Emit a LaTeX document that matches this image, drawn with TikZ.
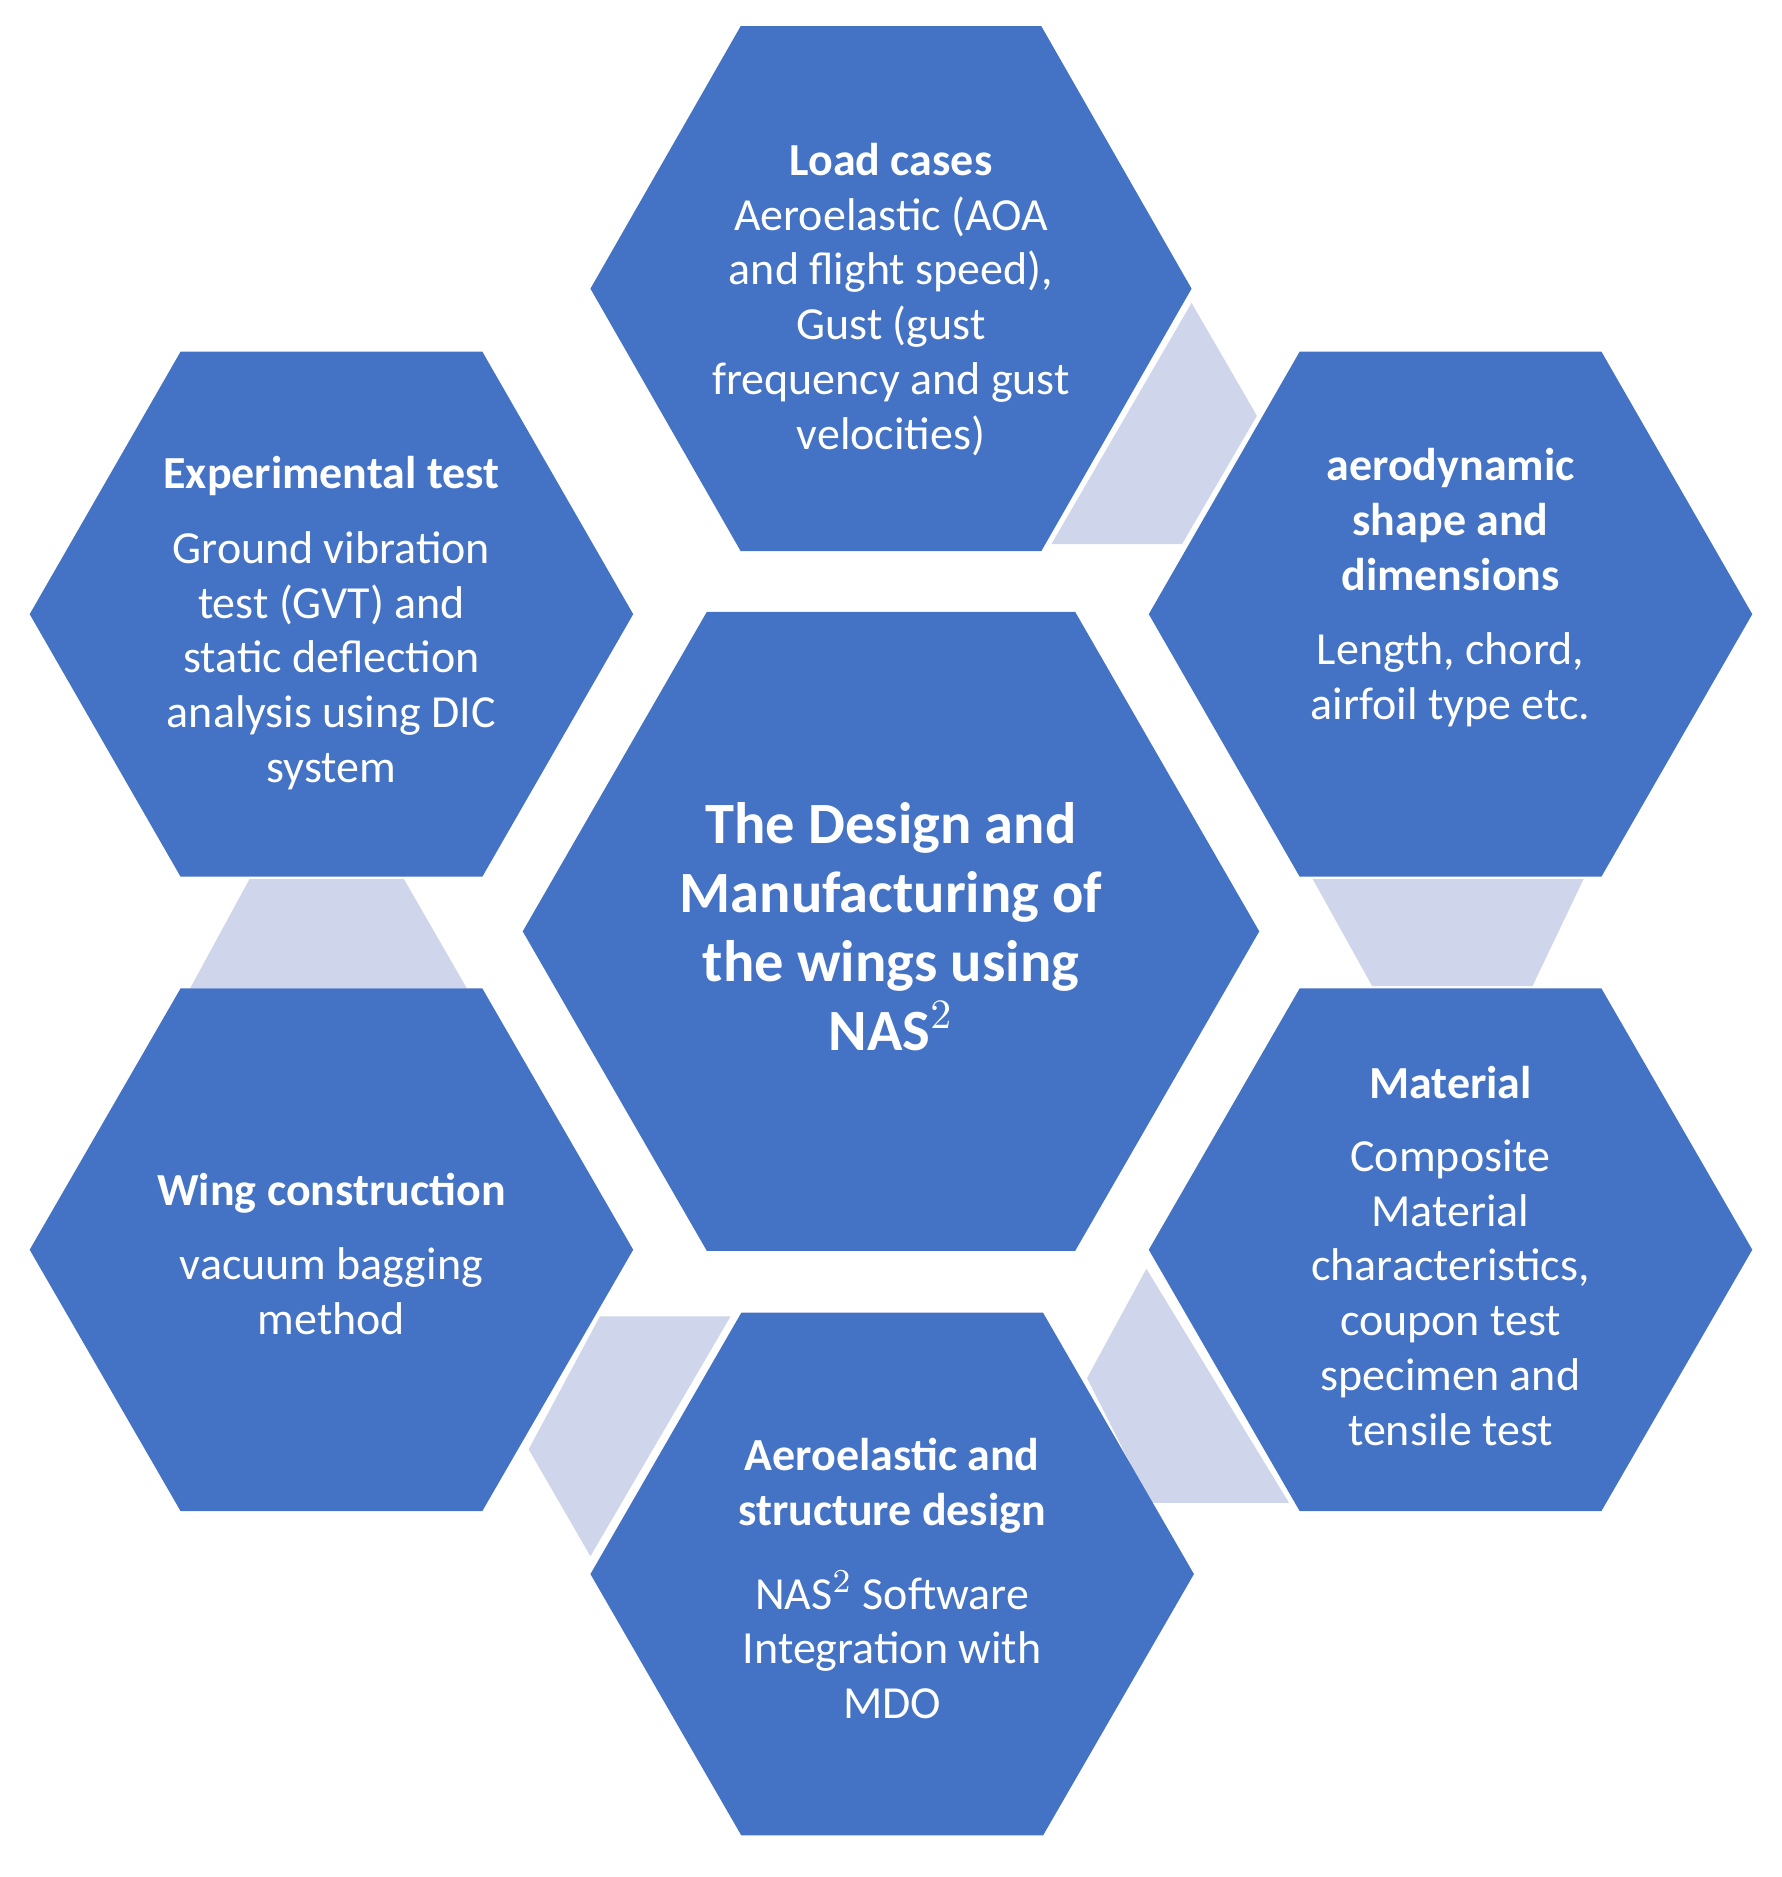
\documentclass[tikz,border=0pt]{standalone}
\usepackage{fontspec}
\setmainfont{Carlito}
\tikzset{
  hexfill/.style  = {fill=hexblue},
  link/.style     = {fill=linkgray},
  head/.style     = {anchor=north, align=center, text=white,
                     font=\fontsize{11}{13.1}\selectfont\bfseries},
  body/.style     = {anchor=north, align=center, text=white,
                     font=\fontsize{11}{13.1}\selectfont},
  title/.style    = {align=center, text=white,
                     font=\fontsize{14}{16.5}\selectfont\bfseries}
}
\definecolor{hexblue}{RGB}{68,114,196}
\definecolor{linkgray}{RGB}{207,213,234}
\newcommand{\hexa}[4]{%
  \fill[hexfill] ({#1-#3},#2) -- ({#1-#3/2},{#2-#4}) -- ({#1+#3/2},{#2-#4})
    -- ({#1+#3},#2) -- ({#1+#3/2},{#2+#4}) -- ({#1-#3/2},{#2+#4}) -- cycle;}
\begin{document}
\begin{tikzpicture}[x=0.01cm, y=-0.01cm]
  \useasboundingbox (0,0) rectangle (1500,1580);
  % connecting bands
  \fill[link] (1003,255) -- (1058,350) -- (995,458) -- (885,458) -- cycle;
  \fill[link] (1105,740) -- (1333,740) -- (1290,830) -- (1155,830) -- cycle;
  \fill[link] (965,1068) -- (1085,1265) -- (968,1265) -- (915,1160) -- cycle;
  \fill[link] (505,1108) -- (615,1108) -- (497,1310) -- (445,1220) -- cycle;
  \fill[link] (160,832) -- (393,832) -- (340,740) -- (210,740) -- cycle;
  % hexagons
  \hexa{750}{243}{253}{221}
  \hexa{750}{784}{310}{269}
  \hexa{279}{517}{254}{221}
  \hexa{1221}{517}{254}{221}
  \hexa{279}{1052}{254}{220}
  \hexa{1221}{1052}{254}{220}
  \hexa{751}{1325}{254}{220}
  % texts
  \node[title] (core) at (750,780) {The Design and\\Manufacturing of\\the wings using\\NAS$^{2}$};
  \node[head] (loadH) at (750,108) {Load cases};
  \node[body] (loadB) at (750,153) {Aeroelastic (AOA\\and flight speed),\\Gust (gust\\frequency and gust\\velocities)};
  \node[head] (expH) at (279,372) {Experimental test};
  \node[body] (expB) at (279,435) {Ground vibration\\test (GVT) and\\static deflection\\analysis using DIC\\system};
  \node[head] (aeroH) at (1221,365) {aerodynamic\\shape and\\dimensions};
  \node[body] (aeroB) at (1221,520) {Length, chord,\\airfoil type etc.};
  \node[head] (wingH) at (279,975) {Wing construction};
  \node[body] (wingB) at (279,1038) {vacuum bagging\\method};
  \node[head] (matH) at (1221,885) {Material};
  \node[body] (matB) at (1221,947) {Composite\\Material\\characteristics,\\coupon test\\specimen and\\tensile test};
  \node[head] (strH) at (751,1198) {Aeroelastic and\\structure design};
  \node[body] (strB) at (751,1310) {NAS$^{2}$ Software\\Integration with\\MDO};
\end{tikzpicture}
\end{document}
